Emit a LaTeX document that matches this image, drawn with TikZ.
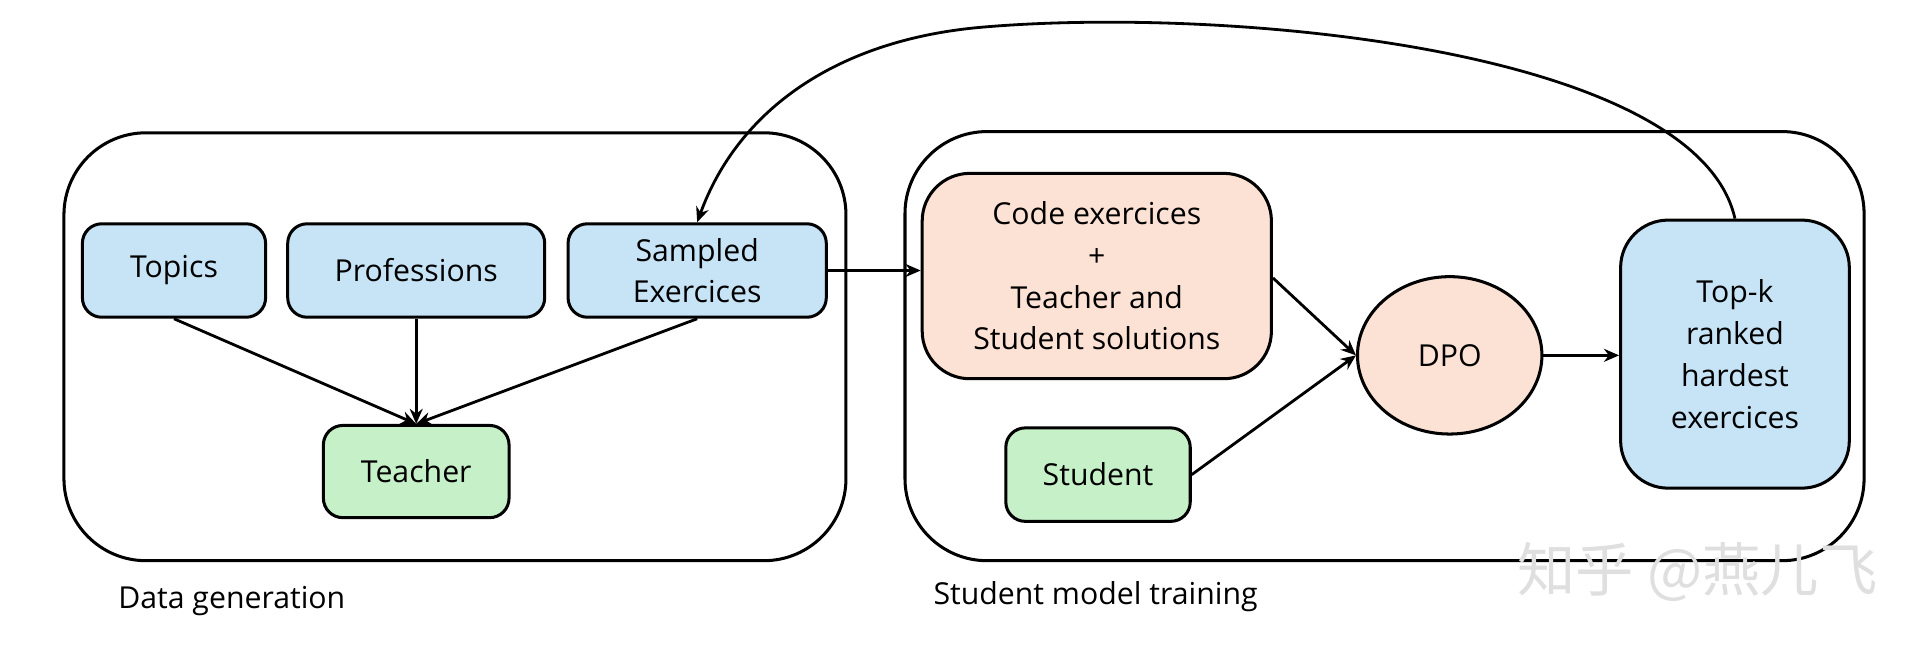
\documentclass[tikz,border=0pt]{standalone}
\usepackage{fontspec}
\setmainfont{Open Sans}
\newfontfamily\cjk{Noto Sans CJK SC}
\usetikzlibrary{shapes.geometric,arrows.meta}
\definecolor{cblue}{RGB}{198,228,245}
\definecolor{cpeach}{RGB}{252,226,212}
\definecolor{cgreen}{RGB}{198,240,200}
\tikzset{
  box/.style={draw=black,line width=1.4pt,rounded corners=9pt,align=center,font=\fontsize{14}{19.3}\selectfont,inner sep=0pt},
  cont/.style={draw=black,line width=1.4pt,rounded corners=38pt},
  arr/.style={-{Stealth[length=7pt,width=6pt]},line width=1.3pt},
  lbl/.style={font=\fontsize{14}{17}\selectfont,anchor=west}
}
\begin{document}
\begin{tikzpicture}[x=0.02cm,y=-0.02cm]
\useasboundingbox (0,0) rectangle (1568,530);
\draw[cont] (52,108) rectangle (688,456);
\draw[cont] (736,107) rectangle (1516,456);
\node[box,fill=cblue,minimum width=149*0.02cm,minimum height=76*0.02cm] (topics) at (141.5,220) {Topics};
\node[box,fill=cblue,minimum width=209*0.02cm,minimum height=76*0.02cm] (prof) at (338.5,220) {Professions};
\node[box,fill=cblue,minimum width=210*0.02cm,minimum height=76*0.02cm] (samp) at (567,220) {Sampled\\Exercices};
\node[box,fill=cgreen,minimum width=151*0.02cm,minimum height=75*0.02cm] (teacher) at (338.5,383.5) {Teacher};
\node[box,fill=cpeach,rounded corners=22pt,minimum width=284*0.02cm,minimum height=167*0.02cm] (code) at (892,224.5) {Code exercices\\+\\Teacher and\\Student solutions};
\node[box,fill=cgreen,minimum width=150*0.02cm,minimum height=76*0.02cm] (student) at (893,386) {Student};
\node[box,ellipse,fill=cpeach,minimum width=150*0.02cm,minimum height=128*0.02cm] (dpo) at (1179,289) {DPO};
\node[box,fill=cblue,rounded corners=22pt,minimum width=186*0.02cm,minimum height=218*0.02cm] (topk) at (1411,288) {Top-k\\ranked\\hardest\\exercices};
\node[lbl] (l1) at (90,489) {Data generation};
\node[lbl] (l2) at (753,485) {Student model training};
\node[font=\cjk\fontsize{27}{30}\selectfont,text=gray!25,anchor=west] (wm) at (1228,465) {知乎 @燕儿飞};
\draw[arr] (topics.south) -- (teacher.north);
\draw[arr] (prof.south) -- (teacher.north);
\draw[arr] (samp.south) -- (teacher.north);
\draw[arr] (samp.east) -- (code.west |- samp.east);
\draw[arr] (code.east |- 0,226) -- (dpo.west);
\draw[arr] (student.east) -- (dpo.west);
\draw[arr] (dpo.east) -- (topk.west |- dpo.east);
\draw[arr] (topk.north) .. controls (1380,40) and (1000,5) .. (800,22) .. controls (680,32) and (600,90) .. (samp.north);
\end{tikzpicture}
\end{document}
